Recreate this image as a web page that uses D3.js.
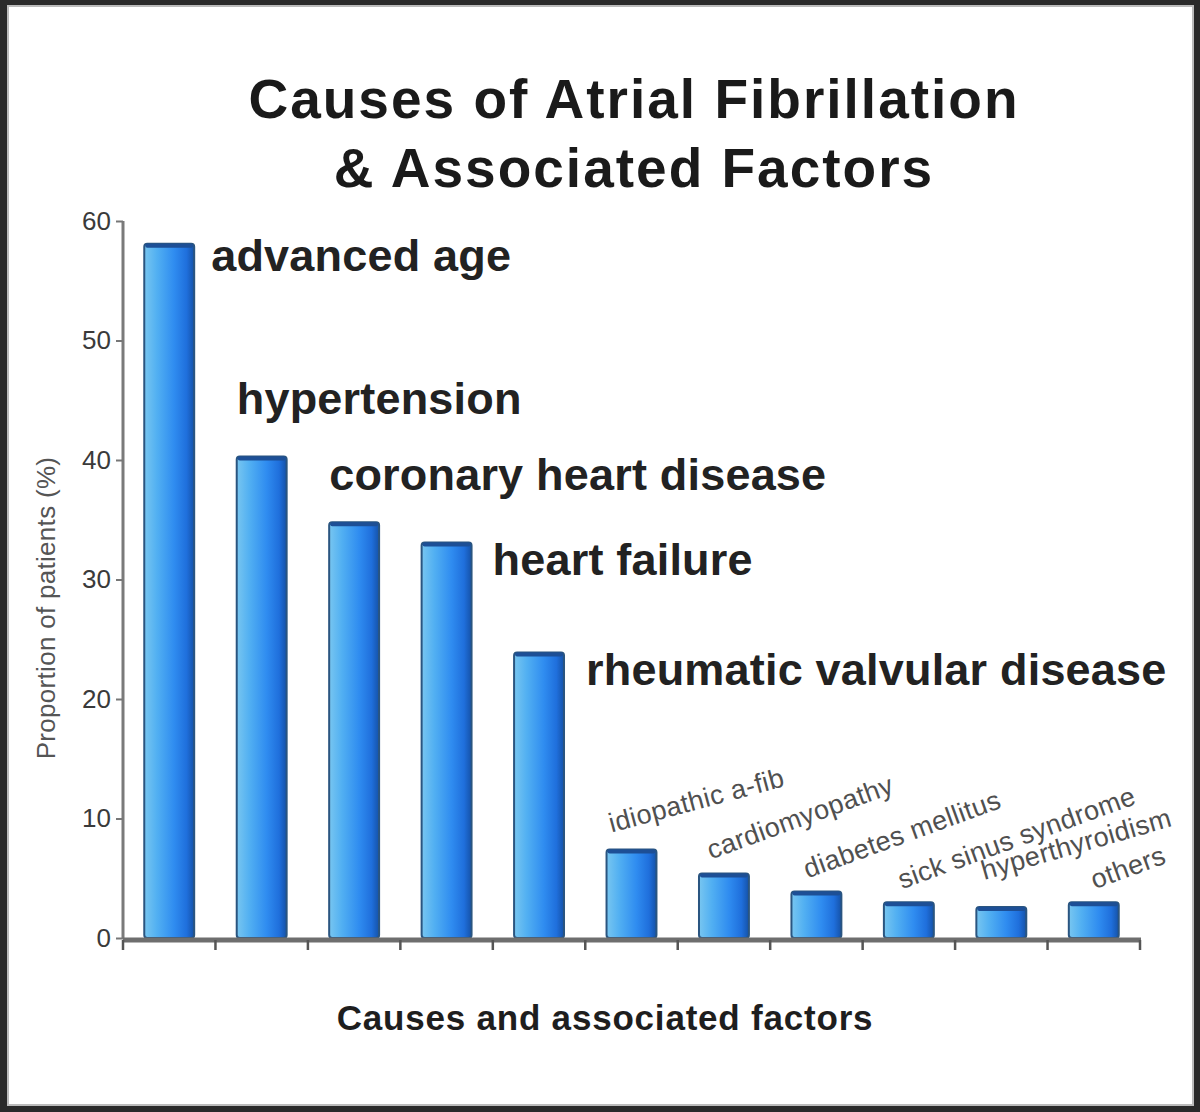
<!DOCTYPE html>
<html>
<head>
<meta charset="utf-8">
<script src="https://cdn.jsdelivr.net/npm/d3@7"></script>
<style>
  html, body { margin: 0; padding: 0; background: #fff; }
  svg { display: block; }
  text { font-family: "Liberation Sans", Arial, Helvetica, sans-serif; }
</style>
</head>
<body>
<svg id="chart" width="1200" height="1112"></svg>
<script>
// ---- data ----
const categories = [
  "advanced age", "hypertension", "coronary heart disease", "heart failure",
  "rheumatic valvular disease", "idiopathic a-fib", "cardiomyopathy",
  "diabetes mellitus", "sick sinus syndrome", "hyperthyroidism", "others"
];
const values = [58.1, 40.3, 34.8, 33.1, 23.9, 7.4, 5.4, 3.9, 3.0, 2.6, 3.0];
const yTicks = [0, 10, 20, 30, 40, 50, 60];
const titleLines = ["Causes of Atrial Fibrillation", "& Associated Factors"];
const xTitle = "Causes and associated factors";
const yTitle = "Proportion of patients (%)";

// ---- layout (annotation placement relative to each bar) ----
// big: [anchor ('right' = beside bar, 'left' = above bar from its left edge), dx, dy]
const bigLabelLayout = [
  ["right", 17, 27], ["left", 0, -42], ["left", 0, -32], ["right", 21, 33], ["right", 22, 33]
];
// small rotated: [dx from bar left, dy from bar top, angle]
const smallLabelLayout = [[5, -17, -15], [12, -14, -20], [16, -13, -20], [18, -13, -20], [8, -27, -16], [26, -13, -20]];

const svg = d3.select("#chart");
const W = 1200, H = 1112;

svg.append("rect").attr("x", 0).attr("y", 0).attr("width", W).attr("height", H).attr("fill", "#fff");

const defs = svg.append("defs");
const grad = defs.append("linearGradient").attr("id", "barGrad")
  .attr("x1", "0%").attr("x2", "100%").attr("y1", "0%").attr("y2", "0%");
[["0%", "#78c6f0"], ["25%", "#52b0f2"], ["60%", "#2f8cf0"], ["85%", "#1f6fdc"], ["100%", "#1552a8"]]
  .forEach(([o, c]) => grad.append("stop").attr("offset", o).attr("stop-color", c));

const x = d3.scaleBand().domain(categories).range([123, 1140]).paddingInner(0.46).paddingOuter(0.23);
const y = d3.scaleLinear().domain([0, 60]).range([938, 221]);

// title
const title = svg.append("text").attr("text-anchor", "middle")
  .attr("font-size", 55).attr("font-weight", "bold").attr("fill", "#1a1a1a").attr("letter-spacing", 2);
title.append("tspan").attr("x", 634).attr("y", 118).text(titleLines[0]);
title.append("tspan").attr("x", 634).attr("y", 187).text(titleLines[1]);

// y axis
const yAxis = svg.append("g").attr("transform", "translate(123,0)")
  .call(d3.axisLeft(y).tickValues(yTicks).tickSize(7).tickPadding(5));
yAxis.select(".domain").attr("stroke", "#7a7a7a").attr("stroke-width", 3)
  .attr("d", `M0,${y(60)}V${y(0)}`);
yAxis.selectAll(".tick line").attr("stroke", "#777").attr("stroke-width", 2);
yAxis.selectAll(".tick text").attr("font-size", 26).attr("fill", "#3a3a3a")
  .attr("font-family", "\"Liberation Sans\", Arial, sans-serif");

// bars
const bars = svg.append("g");
bars.selectAll("rect.bar").data(categories).join("rect")
  .attr("class", "bar")
  .attr("x", d => x(d))
  .attr("y", (d, i) => y(values[i]))
  .attr("width", x.bandwidth())
  .attr("height", (d, i) => y(0) - y(values[i]))
  .attr("rx", 3)
  .attr("fill", "url(#barGrad)")
  .attr("stroke", "#2a5580").attr("stroke-width", 2);
bars.selectAll("rect.cap").data(categories).join("rect")
  .attr("class", "cap")
  .attr("x", d => x(d) + 1)
  .attr("y", (d, i) => y(values[i]))
  .attr("width", x.bandwidth() - 2)
  .attr("height", 4)
  .attr("rx", 2)
  .attr("fill", "#1d4f96");

// x axis line and ticks
const step = x.step();
const xStart = x.range()[0];
svg.append("line").attr("x1", xStart).attr("x2", x.range()[1] + 1)
  .attr("y1", y(0) + 2).attr("y2", y(0) + 2)
  .attr("stroke", "#6e6e6e").attr("stroke-width", 5);
svg.append("g").selectAll("line").data(d3.range(categories.length + 1)).join("line")
  .attr("x1", i => xStart + i * step).attr("x2", i => xStart + i * step)
  .attr("y1", y(0) + 2).attr("y2", y(0) + 12)
  .attr("stroke", "#555").attr("stroke-width", 2.5);

// big labels
svg.append("g").selectAll("text").data(categories.slice(0, bigLabelLayout.length)).join("text")
  .attr("x", (d, i) => bigLabelLayout[i][0] === "right"
      ? x(d) + x.bandwidth() + bigLabelLayout[i][1]
      : x(d) + bigLabelLayout[i][1])
  .attr("y", (d, i) => y(values[i]) + bigLabelLayout[i][2])
  .attr("font-size", 45).attr("font-weight", "bold").attr("fill", "#222")
  .attr("letter-spacing", 0.2)
  .text(d => d);

// small rotated labels
const off = bigLabelLayout.length;
svg.append("g").selectAll("text").data(categories.slice(off)).join("text")
  .attr("transform", (d, i) => {
    const [dx, dy, a] = smallLabelLayout[i];
    return `translate(${x(d) + dx},${y(values[i + off]) + dy}) rotate(${a})`;
  })
  .attr("font-size", 27).attr("fill", "#505050").attr("letter-spacing", 0.4)
  .text(d => d);

// axis titles
svg.append("text").attr("x", 605).attr("y", 1030).attr("text-anchor", "middle")
  .attr("font-size", 35).attr("font-weight", "bold").attr("fill", "#1e1e1e")
  .attr("letter-spacing", 0.8)
  .text(xTitle);
svg.append("text").attr("transform", "translate(55,608) rotate(-90)").attr("text-anchor", "middle")
  .attr("font-size", 26).attr("fill", "#555").attr("letter-spacing", 0.3)
  .text(yTitle);

// frame
svg.append("rect").attr("x", 3.5).attr("y", 2.5).attr("width", W - 7).attr("height", H - 6)
  .attr("fill", "none").attr("stroke", "#2a2a2a").attr("stroke-width", 7);
svg.append("rect").attr("x", 8).attr("y", 6).attr("width", W - 15).attr("height", H - 13)
  .attr("fill", "none").attr("stroke", "#bbb").attr("stroke-width", 2);
</script>
</body>
</html>
